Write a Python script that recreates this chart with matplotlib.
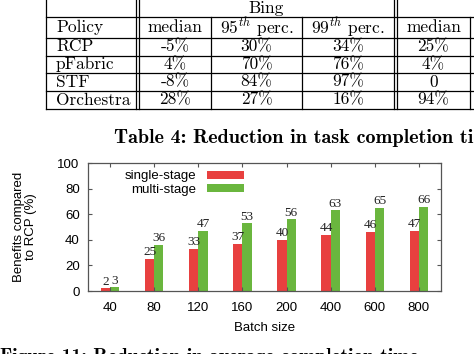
import matplotlib
matplotlib.use("Agg")
import matplotlib.pyplot as plt
from matplotlib.lines import Line2D

W, H = 474, 354

# =====================================
# Data
# =====================================

batch_sizes = ["40", "80", "120", "160", "200", "400", "600", "800"]
single_stage = [2, 25, 33, 37, 40, 44, 46, 47]
multi_stage = [3, 36, 47, 53, 56, 63, 65, 66]

table_header = ["Policy", "median", r"95$^{th}$ perc.", r"99$^{th}$ perc.", "median"]
policies = ["RCP", "pFabric", "STF", "Orchestra"]
bing_median = ["-5%", "4%", "-8%", "28%"]
bing_p95 = ["30%", "70%", "84%", "27%"]
bing_p99 = ["34%", "76%", "97%", "16%"]
other_median = ["25%", "4%", "0", "94%"]

plt.rcParams["mathtext.fontset"] = "cm"

fig = plt.figure(figsize=(W / 100, H / 100), dpi=100)


def fx(px):
    return px / W


def fy(py):
    return 1 - py / H


def hline(y, x0, x1):
    fig.add_artist(Line2D([fx(x0), fx(x1)], [fy(y), fy(y)],
                          transform=fig.transFigure, color="black", lw=0.9))


def vline(x, y0, y1):
    fig.add_artist(Line2D([fx(x), fx(x)], [fy(y0), fy(y1)],
                          transform=fig.transFigure, color="black", lw=0.9))


# =====================================
# Table (top of page)
# =====================================

row_lines = [17, 37.5, 55.5, 73, 91, 109]
for y in row_lines:
    hline(y, 46, 480)
for x in [46, 136, 139, 394, 397]:
    vline(x, -2, 109)
for x in [211, 302, 470]:
    vline(x, 17, 109)

tfont = dict(family="cmr10", fontsize=12.5, va="center")
col_centers = [175, 256.5, 348, 433.5]

fig.text(fx(266), fy(8.5), "Bing", ha="center", **tfont)
fig.text(fx(56), fy(27), table_header[0], ha="left", **tfont)
for cx, label in zip(col_centers, table_header[1:]):
    fig.text(fx(cx), fy(27), label, ha="center", **tfont)

row_centers = [46.5, 64.3, 82, 100]
columns = [bing_median, bing_p95, bing_p99, other_median]
for i, pol in enumerate(policies):
    yc = row_centers[i]
    fig.text(fx(56), fy(yc), pol, ha="left", **tfont)
    for cx, col in zip(col_centers, columns):
        fig.text(fx(cx), fy(yc), col[i], ha="center", **tfont)

fig.text(fx(114), fy(138), "Table 4: Reduction in task completion ti",
         family="cmb10", fontsize=14.5, ha="left", va="center")

# =====================================
# Bar chart
# =====================================

ax = fig.add_axes([fx(88), fy(291), fx(441) - fx(88), (291 - 163) / H])

x = range(len(batch_sizes))
bw = 0.21
red = "#e8403f"
green = "#6ab63e"

bars1 = ax.bar([i - bw / 2 for i in x], single_stage, width=bw,
               color=red, label="single-stage")
bars2 = ax.bar([i + bw / 2 for i in x], multi_stage, width=bw,
               color=green, label="multi-stage")

for bars, vals in [(bars1, single_stage), (bars2, multi_stage)]:
    for b, v in zip(bars, vals):
        ax.text(b.get_x() + b.get_width() / 2, v + 0.5, str(v),
                ha="center", va="bottom", family="Liberation Serif",
                fontsize=9.5, color="#222222")

ax.set_xlim(-0.5, len(batch_sizes) - 0.5)
ax.set_ylim(0, 100)
ax.set_yticks([0, 20, 40, 60, 80, 100])
ax.set_xticks(list(x))
ax.set_xticklabels(batch_sizes)

for s in ax.spines.values():
    s.set_color("#555555")
    s.set_linewidth(0.9)

ax.tick_params(direction="in", length=3, width=0.8, color="#555555",
               top=True, right=True, labelsize=9.5)
ax.tick_params(axis="x", pad=8)
ax.tick_params(axis="y", pad=6)
for lab in ax.get_xticklabels() + ax.get_yticklabels():
    lab.set_family("Liberation Sans")

ax.set_xlabel("Batch size", family="Liberation Sans", fontsize=9.5,
              labelpad=6)
ax.set_ylabel("Benefits compared\nto RCP (%)", family="Liberation Sans",
              fontsize=9.5, linespacing=1.0)
ax.yaxis.set_label_coords((37 - 88) / 353, 0.5)

ax.legend(loc="upper left", bbox_to_anchor=((118 - 88) / 353, 0.995),
          frameon=False, markerfirst=False, borderpad=0,
          handlelength=2.8, handleheight=0.55, handletextpad=0.8,
          labelspacing=0.12, prop={"family": "Liberation Sans", "size": 9.5})

# cut-off figure caption at bottom of page
fig.text(fx(0), fy(348), "Figure 11: Reduction in average completion time",
         family="cmb10", fontsize=14, ha="left", va="top")

plt.savefig("out.png", dpi=100)
